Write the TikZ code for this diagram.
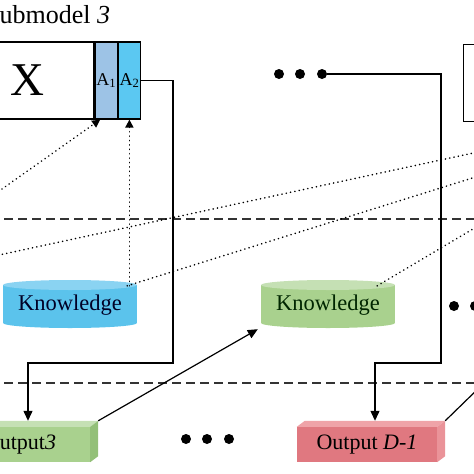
\documentclass[tikz,border=0pt]{standalone}
\usepackage{fontspec}
\setmainfont{Liberation Serif}
\usepackage[HTML]{xcolor}
\usetikzlibrary{positioning, arrows.meta}

\definecolor{cellone}{HTML}{9DC3E6}
\definecolor{celltwo}{HTML}{5BC8F2}
\definecolor{kbluebody}{HTML}{5BC3EC}
\definecolor{kbluetop}{HTML}{8AD3F2}
\definecolor{kgreenbody}{HTML}{A9D18E}
\definecolor{kgreentop}{HTML}{C5E0B4}
\definecolor{ogreenside}{HTML}{93C078}
\definecolor{oredbody}{HTML}{E07880}
\definecolor{oredtop}{HTML}{EFA3A8}
\definecolor{oredside}{HTML}{EA9399}

\begin{document}
\begin{tikzpicture}[x=1pt, y=-1pt,
  wire/.style={line width=1.2pt},
  flow/.style={line width=1.2pt, -{Triangle[length=10pt,width=9pt]}},
  hint/.style={line width=1.7pt, line cap=round, dash pattern=on 0.1pt off 4.3pt, -{Triangle[length=8pt,width=8pt,line cap=butt]}},
  sep/.style={line width=1.3pt, black!80, dash pattern=on 9pt off 5pt},
  dot/.style={circle, fill, inner sep=0pt, minimum size=10pt},
  cell/.style={draw, line width=1.2pt, minimum width=22pt, minimum height=77pt, inner sep=0pt, font=\fontsize{18}{18}\selectfont},
  cyl/.style={minimum width=134pt, minimum height=38pt, inner sep=0pt, font=\fontsize{22.5}{24}\selectfont},
  outbox/.style={minimum width=140pt, minimum height=35pt, inner sep=0pt, font=\fontsize{22}{24}\selectfont}]
\useasboundingbox (0,0) rectangle (474,474);
\clip (0,0) rectangle (474,474);

% --- Submodel 3 ---
\node[anchor=base west, inner sep=0pt, font=\fontsize{26}{26}\selectfont] (title) at (-15,23) {Submodel \textit{3}};
\node[draw, wire, minimum width=134pt, minimum height=77pt, inner sep=0pt, font=\fontsize{47}{47}\selectfont] (xbox) at (27,80.5) {X};
\node[cell, fill=cellone, right=0pt of xbox] (a1) {A\textsubscript{1}};
\node[cell, fill=celltwo, right=0pt of a1] (a2) {A\textsubscript{2}};

% --- next submodel (cut off) ---
\node[draw, wire, minimum width=80pt, minimum height=77pt, inner sep=0pt, anchor=north west] (xboxD) at (463,44) {};
\foreach \i/\px in {1/279, 2/300, 3/322}
  \node[dot] (dtop\i) at (\px,74) {};

% --- separators ---
\draw[sep] (-10,219) -- (490,219);
\draw[sep] (-10,383) -- (490,383);

% --- knowledge stores ---
\fill[kbluebody] (70,323) ellipse [x radius=67, y radius=5];
\fill[kbluebody] (3,285) rectangle (137,323);
\fill[kbluetop] (70,285) ellipse [x radius=67, y radius=5];
\node[cyl, text=black!85!blue] (knowA) at (70,305) {Knowledge};

\fill[kgreenbody] (328,323) ellipse [x radius=67, y radius=5];
\fill[kgreenbody] (261,285) rectangle (395,323);
\fill[kgreentop] (328,285) ellipse [x radius=67, y radius=5];
\node[cyl, text=black!85!green] (knowB) at (328,305) {Knowledge};

\node[dot] (dmid1) at (454,306) {};
\node[dot] (dmid2) at (475,306) {};

% --- outputs ---
\node[outbox, fill=kgreenbody] (out3) at (20,444.5) {Output\textit{3}};
\fill[kgreentop] (out3.north west) -- ++(8,-6) -- ([shift={(8,-6)}]out3.north east) -- (out3.north east) -- cycle;
\fill[ogreenside] (out3.north east) -- ++(8,-6) -- ([shift={(8,-6)}]out3.south east) -- (out3.south east) -- cycle;

\node[outbox, fill=oredbody] (outD) at (367,444.5) {Output \textit{D-1}};
\fill[oredtop] (outD.north west) -- ++(8,-6) -- ([shift={(8,-6)}]outD.north east) -- (outD.north east) -- cycle;
\fill[oredside] (outD.north east) -- ++(8,-6) -- ([shift={(8,-6)}]outD.south east) -- (outD.south east) -- cycle;

\foreach \i/\px in {1/186, 2/207, 3/229}
  \node[dot] (dbot\i) at (\px,439) {};

% --- solid links ---
\coordinate (bend3) at (173,363);
\coordinate (bendD) at (441,363);
\draw[flow] (a2.east) -| (bend3) -| ([shift={(8,-6)}]out3.north);
\draw[flow] (dtop3) -| (bendD) -| ([shift={(8,-6)}]outD.north);

\coordinate (outprev) at (-161,421);
\coordinate (knownext) at (520,348);
\draw[flow] (outprev) -- ([shift={(-3,5)}]knowA.south west);
\draw[flow] ([shift={(8,-6)}]out3.north east) -- ([shift={(-3,5)}]knowB.south west);
\draw[flow] ([shift={(8,-6)}]outD.north east) -- (knownext);

% --- dotted links ---
\coordinate (knowprev) at (-131,283);
\coordinate (tgtD1) at (622,121);
\coordinate (tgtD2) at (655,121);
\draw[hint] (knowprev) -- ([xshift=-6pt]a1.south);
\draw[hint] (a2.south |- knowA.north) -- (a2.south);
\draw[hint] (knowprev) -- (tgtD1);
\draw[hint] ([xshift=-10pt]knowA.north east) -- (tgtD2);
\draw[hint] ([xshift=-18pt]knowB.north east) -- (tgtD2);
\end{tikzpicture}
\end{document}
